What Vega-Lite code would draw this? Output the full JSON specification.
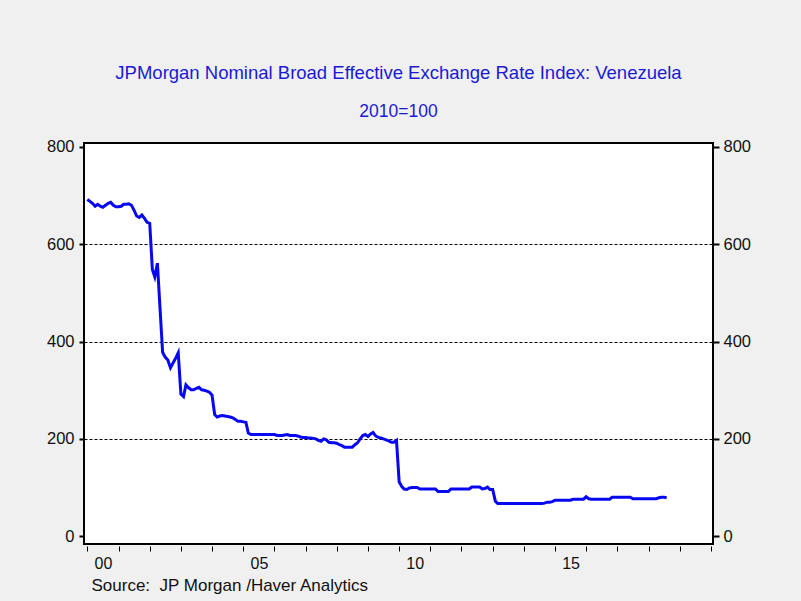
{
  "$schema": "https://vega.github.io/schema/vega-lite/v6.json",
  "description": "JPMorgan nominal broad effective exchange rate index for Venezuela, monthly, 2010=100.",
  "autosize": "none",
  "width": 629,
  "height": 401,
  "padding": {"left": 84, "top": 143, "right": 88, "bottom": 57},
  "background": "#f0f0f0",
  "title": {
    "text": "JPMorgan Nominal Broad Effective Exchange Rate Index: Venezuela",
    "subtitle": "2010=100",
    "anchor": "middle",
    "font": "Liberation Sans",
    "fontSize": 18.5,
    "fontWeight": "normal",
    "color": "#1a1ad6",
    "subtitleFont": "Liberation Sans",
    "subtitleFontSize": 17.5,
    "subtitleColor": "#1a1ad6",
    "subtitlePadding": 21,
    "offset": 18
  },
  "data": {
    "values": [
      {"date": "2000-01-01", "index": 692}, {"date": "2000-02-01", "index": 688}, {"date": "2000-03-01", "index": 684}, {"date": "2000-04-01", "index": 678},
      {"date": "2000-05-01", "index": 682}, {"date": "2000-06-01", "index": 678}, {"date": "2000-07-01", "index": 676}, {"date": "2000-08-01", "index": 680},
      {"date": "2000-09-01", "index": 684}, {"date": "2000-10-01", "index": 686}, {"date": "2000-11-01", "index": 680}, {"date": "2000-12-01", "index": 677},
      {"date": "2001-01-01", "index": 677}, {"date": "2001-02-01", "index": 678}, {"date": "2001-03-01", "index": 682}, {"date": "2001-04-01", "index": 682},
      {"date": "2001-05-01", "index": 683}, {"date": "2001-06-01", "index": 680}, {"date": "2001-07-01", "index": 670}, {"date": "2001-08-01", "index": 658},
      {"date": "2001-09-01", "index": 655}, {"date": "2001-10-01", "index": 660}, {"date": "2001-11-01", "index": 653}, {"date": "2001-12-01", "index": 645},
      {"date": "2002-01-01", "index": 643}, {"date": "2002-02-01", "index": 548}, {"date": "2002-03-01", "index": 533}, {"date": "2002-04-01", "index": 561},
      {"date": "2002-05-01", "index": 470}, {"date": "2002-06-01", "index": 378}, {"date": "2002-07-01", "index": 368}, {"date": "2002-08-01", "index": 362},
      {"date": "2002-09-01", "index": 346}, {"date": "2002-10-01", "index": 356}, {"date": "2002-11-01", "index": 366}, {"date": "2002-12-01", "index": 377},
      {"date": "2003-01-01", "index": 292}, {"date": "2003-02-01", "index": 287}, {"date": "2003-03-01", "index": 311}, {"date": "2003-04-01", "index": 305},
      {"date": "2003-05-01", "index": 301}, {"date": "2003-06-01", "index": 301}, {"date": "2003-07-01", "index": 304}, {"date": "2003-08-01", "index": 306},
      {"date": "2003-09-01", "index": 301}, {"date": "2003-10-01", "index": 300}, {"date": "2003-11-01", "index": 298}, {"date": "2003-12-01", "index": 296},
      {"date": "2004-01-01", "index": 290}, {"date": "2004-02-01", "index": 250}, {"date": "2004-03-01", "index": 245}, {"date": "2004-04-01", "index": 247},
      {"date": "2004-05-01", "index": 248}, {"date": "2004-06-01", "index": 247}, {"date": "2004-07-01", "index": 246}, {"date": "2004-08-01", "index": 245},
      {"date": "2004-09-01", "index": 243}, {"date": "2004-10-01", "index": 240}, {"date": "2004-11-01", "index": 236}, {"date": "2004-12-01", "index": 236},
      {"date": "2005-01-01", "index": 235}, {"date": "2005-02-01", "index": 234}, {"date": "2005-03-01", "index": 212}, {"date": "2005-04-01", "index": 209},
      {"date": "2005-05-01", "index": 209}, {"date": "2005-06-01", "index": 209}, {"date": "2005-07-01", "index": 209}, {"date": "2005-08-01", "index": 209},
      {"date": "2005-09-01", "index": 209}, {"date": "2005-10-01", "index": 209}, {"date": "2005-11-01", "index": 209}, {"date": "2005-12-01", "index": 209},
      {"date": "2006-01-01", "index": 209}, {"date": "2006-02-01", "index": 207}, {"date": "2006-03-01", "index": 207}, {"date": "2006-04-01", "index": 207},
      {"date": "2006-05-01", "index": 208}, {"date": "2006-06-01", "index": 209}, {"date": "2006-07-01", "index": 207}, {"date": "2006-08-01", "index": 207},
      {"date": "2006-09-01", "index": 207}, {"date": "2006-10-01", "index": 206}, {"date": "2006-11-01", "index": 204}, {"date": "2006-12-01", "index": 203},
      {"date": "2007-01-01", "index": 203}, {"date": "2007-02-01", "index": 202}, {"date": "2007-03-01", "index": 202}, {"date": "2007-04-01", "index": 201},
      {"date": "2007-05-01", "index": 200}, {"date": "2007-06-01", "index": 197}, {"date": "2007-07-01", "index": 195}, {"date": "2007-08-01", "index": 200},
      {"date": "2007-09-01", "index": 198}, {"date": "2007-10-01", "index": 193}, {"date": "2007-11-01", "index": 192}, {"date": "2007-12-01", "index": 192},
      {"date": "2008-01-01", "index": 191}, {"date": "2008-02-01", "index": 188}, {"date": "2008-03-01", "index": 186}, {"date": "2008-04-01", "index": 183},
      {"date": "2008-05-01", "index": 183}, {"date": "2008-06-01", "index": 183}, {"date": "2008-07-01", "index": 183}, {"date": "2008-08-01", "index": 188},
      {"date": "2008-09-01", "index": 192}, {"date": "2008-10-01", "index": 200}, {"date": "2008-11-01", "index": 207}, {"date": "2008-12-01", "index": 209},
      {"date": "2009-01-01", "index": 205}, {"date": "2009-02-01", "index": 210}, {"date": "2009-03-01", "index": 213}, {"date": "2009-04-01", "index": 206},
      {"date": "2009-05-01", "index": 203}, {"date": "2009-06-01", "index": 202}, {"date": "2009-07-01", "index": 200}, {"date": "2009-08-01", "index": 198},
      {"date": "2009-09-01", "index": 196}, {"date": "2009-10-01", "index": 193}, {"date": "2009-11-01", "index": 193}, {"date": "2009-12-01", "index": 197},
      {"date": "2010-01-01", "index": 112}, {"date": "2010-02-01", "index": 102}, {"date": "2010-03-01", "index": 97}, {"date": "2010-04-01", "index": 96},
      {"date": "2010-05-01", "index": 99}, {"date": "2010-06-01", "index": 100}, {"date": "2010-07-01", "index": 100}, {"date": "2010-08-01", "index": 100},
      {"date": "2010-09-01", "index": 97}, {"date": "2010-10-01", "index": 97}, {"date": "2010-11-01", "index": 97}, {"date": "2010-12-01", "index": 97},
      {"date": "2011-01-01", "index": 97}, {"date": "2011-02-01", "index": 97}, {"date": "2011-03-01", "index": 97}, {"date": "2011-04-01", "index": 92},
      {"date": "2011-05-01", "index": 92}, {"date": "2011-06-01", "index": 92}, {"date": "2011-07-01", "index": 92}, {"date": "2011-08-01", "index": 92},
      {"date": "2011-09-01", "index": 97}, {"date": "2011-10-01", "index": 97}, {"date": "2011-11-01", "index": 97}, {"date": "2011-12-01", "index": 97},
      {"date": "2012-01-01", "index": 97}, {"date": "2012-02-01", "index": 97}, {"date": "2012-03-01", "index": 97}, {"date": "2012-04-01", "index": 97},
      {"date": "2012-05-01", "index": 101}, {"date": "2012-06-01", "index": 101}, {"date": "2012-07-01", "index": 101}, {"date": "2012-08-01", "index": 101},
      {"date": "2012-09-01", "index": 97}, {"date": "2012-10-01", "index": 98}, {"date": "2012-11-01", "index": 101}, {"date": "2012-12-01", "index": 96},
      {"date": "2013-01-01", "index": 96}, {"date": "2013-02-01", "index": 72}, {"date": "2013-03-01", "index": 67}, {"date": "2013-04-01", "index": 67},
      {"date": "2013-05-01", "index": 67}, {"date": "2013-06-01", "index": 67}, {"date": "2013-07-01", "index": 67}, {"date": "2013-08-01", "index": 67},
      {"date": "2013-09-01", "index": 67}, {"date": "2013-10-01", "index": 67}, {"date": "2013-11-01", "index": 67}, {"date": "2013-12-01", "index": 67},
      {"date": "2014-01-01", "index": 67}, {"date": "2014-02-01", "index": 67}, {"date": "2014-03-01", "index": 67}, {"date": "2014-04-01", "index": 67},
      {"date": "2014-05-01", "index": 67}, {"date": "2014-06-01", "index": 67}, {"date": "2014-07-01", "index": 67}, {"date": "2014-08-01", "index": 67},
      {"date": "2014-09-01", "index": 68}, {"date": "2014-10-01", "index": 70}, {"date": "2014-11-01", "index": 70}, {"date": "2014-12-01", "index": 71},
      {"date": "2015-01-01", "index": 74}, {"date": "2015-02-01", "index": 74}, {"date": "2015-03-01", "index": 74}, {"date": "2015-04-01", "index": 74},
      {"date": "2015-05-01", "index": 74}, {"date": "2015-06-01", "index": 74}, {"date": "2015-07-01", "index": 74}, {"date": "2015-08-01", "index": 76},
      {"date": "2015-09-01", "index": 76}, {"date": "2015-10-01", "index": 76}, {"date": "2015-11-01", "index": 76}, {"date": "2015-12-01", "index": 76},
      {"date": "2016-01-01", "index": 81}, {"date": "2016-02-01", "index": 77}, {"date": "2016-03-01", "index": 76}, {"date": "2016-04-01", "index": 76},
      {"date": "2016-05-01", "index": 76}, {"date": "2016-06-01", "index": 76}, {"date": "2016-07-01", "index": 76}, {"date": "2016-08-01", "index": 76},
      {"date": "2016-09-01", "index": 76}, {"date": "2016-10-01", "index": 76}, {"date": "2016-11-01", "index": 80}, {"date": "2016-12-01", "index": 80},
      {"date": "2017-01-01", "index": 80}, {"date": "2017-02-01", "index": 80}, {"date": "2017-03-01", "index": 80}, {"date": "2017-04-01", "index": 80},
      {"date": "2017-05-01", "index": 80}, {"date": "2017-06-01", "index": 80}, {"date": "2017-07-01", "index": 77}, {"date": "2017-08-01", "index": 77},
      {"date": "2017-09-01", "index": 77}, {"date": "2017-10-01", "index": 77}, {"date": "2017-11-01", "index": 77}, {"date": "2017-12-01", "index": 77},
      {"date": "2018-01-01", "index": 77}, {"date": "2018-02-01", "index": 77}, {"date": "2018-03-01", "index": 77}, {"date": "2018-04-01", "index": 77},
      {"date": "2018-05-01", "index": 79}, {"date": "2018-06-01", "index": 80}, {"date": "2018-07-01", "index": 80}, {"date": "2018-08-01", "index": 79}
    ]
  },
  "encoding": {
    "x": {
      "field": "date",
      "type": "temporal",
      "scale": {
        "type": "utc",
        "domain": [
          {"year": 1999, "month": 11, "date": 23, "utc": true},
          {"year": 2020, "month": 1, "date": 26, "utc": true}
        ]
      },
      "axis": {
        "title": "Source:\u00a0 JP Morgan /Haver Analytics",
        "titleAnchor": "start",
        "titleAlign": "left",
        "titleBaseline": "alphabetic",
        "titleX": 7,
        "titleY": 44,
        "titleFont": "Liberation Sans",
        "titleFontSize": 17,
        "titleFontWeight": "normal",
        "titleColor": "#111111",
        "tickCount": {"interval": "year", "step": 1},
        "labelExpr": "utcyear(datum.value) % 5 === 0 && utcyear(datum.value) < 2020 ? utcFormat(datum.value, '%y') : ''",
        "labelOffset": 15.6,
        "labelFlush": false,
        "labelOverlap": false,
        "labelFontSize": 16,
        "labelPadding": 4,
        "offset": 2,
        "domain": false,
        "grid": false,
        "tickSize": 5,
        "tickColor": "#000000",
        "tickWidth": 1
      }
    }
  },
  "layer": [
    {
      "mark": {"type": "line", "color": "#0808f0", "strokeWidth": 3, "clip": true},
      "encoding": {
        "y": {
          "field": "index",
          "type": "quantitative",
          "scale": {"domain": [-16, 808], "nice": false, "zero": false},
          "axis": {
            "orient": "left",
            "title": null,
            "values": [0, 200, 400, 600, 800],
            "domain": false,
            "grid": true,
            "gridColor": "#000000",
            "gridDash": [3, 2],
            "gridWidth": 1,
            "gridOpacity": {"condition": {"test": "datum.value === 0 || datum.value === 800", "value": 0}, "value": 1},
            "tickSize": 5,
            "tickWidth": 2,
            "tickColor": "#000000",
            "labelPadding": 5
          }
        }
      }
    },
    {
      "mark": {"type": "line", "opacity": 0},
      "encoding": {
        "y": {
          "field": "index",
          "type": "quantitative",
          "scale": {"domain": [-16, 808], "nice": false, "zero": false},
          "axis": {
            "orient": "right",
            "title": null,
            "values": [0, 200, 400, 600, 800],
            "domain": false,
            "grid": false,
            "tickSize": 6,
            "tickWidth": 2,
            "tickColor": "#000000",
            "labelPadding": 4
          }
        }
      }
    }
  ],
  "resolve": {"axis": {"y": "independent"}},
  "config": {
    "font": "Liberation Sans",
    "view": {"fill": "#ffffff", "stroke": "#000000", "strokeWidth": 2},
    "axis": {
      "labelFont": "Liberation Sans",
      "labelFontSize": 16.5,
      "labelColor": "#111111"
    }
  }
}
